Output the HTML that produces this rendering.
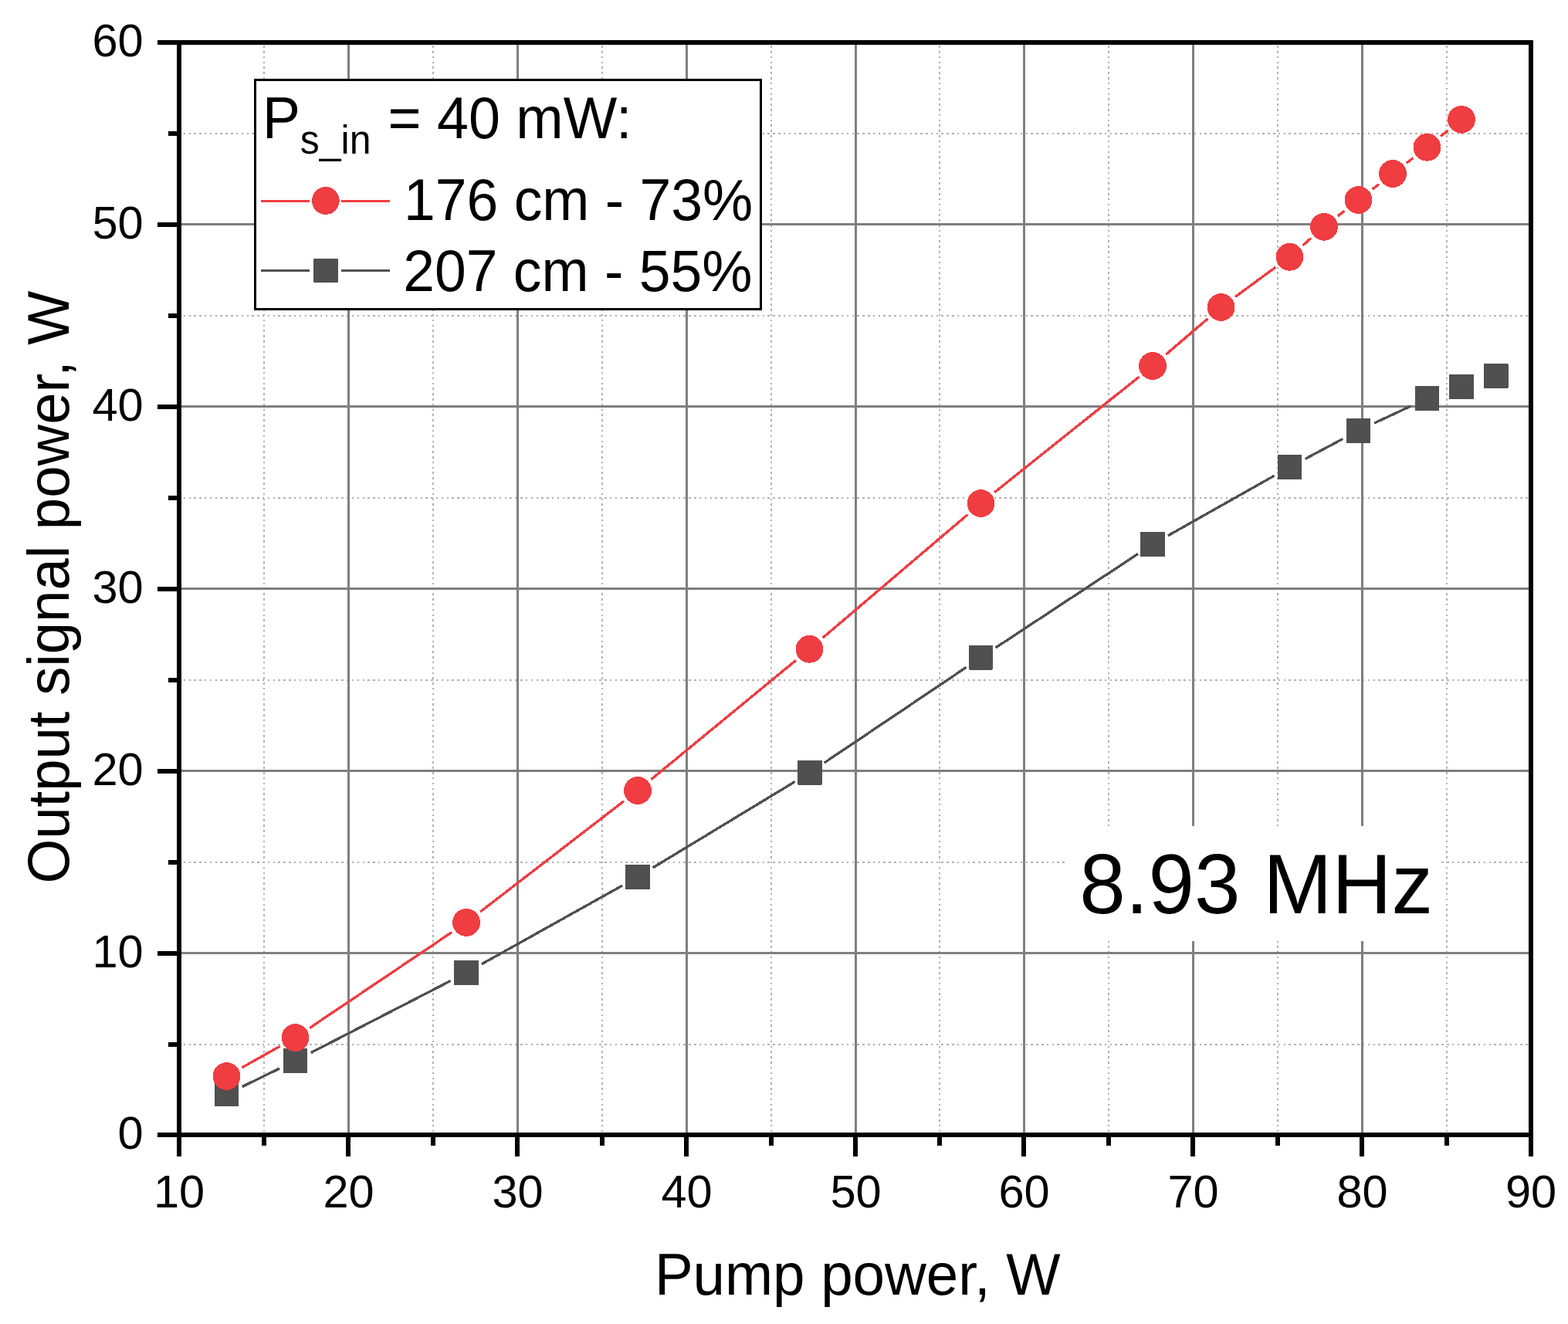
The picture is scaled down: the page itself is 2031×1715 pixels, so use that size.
<!DOCTYPE html>
<html><head><meta charset="utf-8"><style>
html,body{margin:0;padding:0;background:#fff;}
svg{display:block;}
</style></head><body>
<svg width="2031" height="1715" viewBox="0 0 2031 1715">
<rect width="2031" height="1715" fill="#fff"/>
<g stroke="#b0b0b0" stroke-width="2" stroke-dasharray="2.5 4.318" shape-rendering="crispEdges">
<line x1="342" y1="58" x2="342" y2="1467" stroke-dashoffset="-1.2"/>
<line x1="561" y1="58" x2="561" y2="1467" stroke-dashoffset="-1.2"/>
<line x1="780" y1="58" x2="780" y2="1467" stroke-dashoffset="-1.2"/>
<line x1="999" y1="58" x2="999" y2="1467" stroke-dashoffset="-1.2"/>
<line x1="1217" y1="58" x2="1217" y2="1467" stroke-dashoffset="-1.2"/>
<line x1="1436" y1="58" x2="1436" y2="1467" stroke-dashoffset="-1.2"/>
<line x1="1655" y1="58" x2="1655" y2="1467" stroke-dashoffset="-1.2"/>
<line x1="1874" y1="58" x2="1874" y2="1467" stroke-dashoffset="-1.2"/>
<line x1="235" y1="1353" x2="1980" y2="1353" stroke-dashoffset="-2.7"/>
<line x1="235" y1="1117" x2="1980" y2="1117" stroke-dashoffset="-2.7"/>
<line x1="235" y1="881" x2="1980" y2="881" stroke-dashoffset="-2.7"/>
<line x1="235" y1="645" x2="1980" y2="645" stroke-dashoffset="-2.7"/>
<line x1="235" y1="409" x2="1980" y2="409" stroke-dashoffset="-2.7"/>
<line x1="235" y1="173" x2="1980" y2="173" stroke-dashoffset="-2.7"/>
</g>
<g stroke="#7f7f7f" stroke-width="3" shape-rendering="crispEdges">
<line x1="451.5" y1="58" x2="451.5" y2="1467"/>
<line x1="670.5" y1="58" x2="670.5" y2="1467"/>
<line x1="889.5" y1="58" x2="889.5" y2="1467"/>
<line x1="1108.5" y1="58" x2="1108.5" y2="1467"/>
<line x1="1326.5" y1="58" x2="1326.5" y2="1467"/>
<line x1="1545.5" y1="58" x2="1545.5" y2="1467"/>
<line x1="1764.5" y1="58" x2="1764.5" y2="1467"/>
<line x1="235" y1="1234.5" x2="1980" y2="1234.5"/>
<line x1="235" y1="998.5" x2="1980" y2="998.5"/>
<line x1="235" y1="762.5" x2="1980" y2="762.5"/>
<line x1="235" y1="526.5" x2="1980" y2="526.5"/>
<line x1="235" y1="290.5" x2="1980" y2="290.5"/>
</g>
<rect x="1381" y="1070" width="486" height="149" fill="#fff"/>
<g stroke="#ef3d41" stroke-width="3.3" shape-rendering="crispEdges">
<line x1="313.3" y1="1382.9" x2="362.7" y2="1355.2"/>
<line x1="401.3" y1="1331.4" x2="585.2" y2="1207.6"/>
<line x1="622.0" y1="1181.1" x2="808.0" y2="1037.8"/>
<line x1="843.5" y1="1009.6" x2="1031.0" y2="855.2"/>
<line x1="1065.8" y1="826.1" x2="1253.2" y2="666.7"/>
<line x1="1288.2" y1="637.8" x2="1475.3" y2="488.2"/>
<line x1="1510.2" y1="459.2" x2="1564.4" y2="412.8"/>
<line x1="1599.9" y1="384.6" x2="1652.1" y2="346.2"/>
<line x1="1687.5" y1="317.9" x2="1697.9" y2="308.7"/>
<line x1="1732.9" y1="279.8" x2="1741.6" y2="273.0"/>
<line x1="1777.5" y1="245.2" x2="1786.0" y2="238.8"/>
<line x1="1822.0" y1="211.2" x2="1830.5" y2="204.6"/>
<line x1="1866.1" y1="176.5" x2="1875.4" y2="169.1"/>
</g>
<g stroke="#505050" stroke-width="3.3" shape-rendering="crispEdges">
<line x1="313.9" y1="1407.5" x2="362.1" y2="1384.0"/>
<line x1="402.7" y1="1363.6" x2="583.8" y2="1270.4"/>
<line x1="623.8" y1="1248.9" x2="806.2" y2="1147.0"/>
<line x1="845.4" y1="1124.1" x2="1029.6" y2="1012.5"/>
<line x1="1067.8" y1="988.0" x2="1251.7" y2="864.3"/>
<line x1="1289.5" y1="839.1" x2="1474.0" y2="717.5"/>
<line x1="1512.8" y1="693.9" x2="1650.7" y2="616.1"/>
<line x1="1690.6" y1="594.4" x2="1739.4" y2="568.5"/>
<line x1="1780.0" y1="548.2" x2="1827.9" y2="525.7"/>
</g>
<g fill="#505050" shape-rendering="crispEdges">
<rect x="277.6" y="1401.6" width="31.8" height="31.8" rx="1"/>
<rect x="366.6" y="1358.1" width="31.8" height="31.8" rx="1"/>
<rect x="588.1" y="1244.1" width="31.8" height="31.8" rx="1"/>
<rect x="810.1" y="1120.0" width="31.8" height="31.8" rx="1"/>
<rect x="1033.1" y="984.8" width="31.8" height="31.8" rx="1"/>
<rect x="1254.6" y="835.7" width="31.8" height="31.8" rx="1"/>
<rect x="1477.1" y="689.1" width="31.8" height="31.8" rx="1"/>
<rect x="1654.6" y="589.1" width="31.8" height="31.8" rx="1"/>
<rect x="1743.6" y="542.0" width="31.8" height="31.8" rx="1"/>
<rect x="1832.5" y="500.1" width="31.8" height="31.8" rx="1"/>
<rect x="1877.1" y="485.1" width="31.8" height="31.8" rx="1"/>
<rect x="1921.7" y="471.1" width="31.8" height="31.8" rx="1"/>
</g>
<g fill="#ef3d41" shape-rendering="crispEdges">
<circle cx="293.5" cy="1394" r="17.9"/>
<circle cx="382.5" cy="1344.1" r="17.9"/>
<circle cx="604" cy="1194.9" r="17.9"/>
<circle cx="826" cy="1024" r="17.9"/>
<circle cx="1048.5" cy="840.8" r="17.9"/>
<circle cx="1270.5" cy="652" r="17.9"/>
<circle cx="1493" cy="474" r="17.9"/>
<circle cx="1581.6" cy="398" r="17.9"/>
<circle cx="1670.4" cy="332.8" r="17.9"/>
<circle cx="1715" cy="293.8" r="17.9"/>
<circle cx="1759.5" cy="259" r="17.9"/>
<circle cx="1804" cy="225" r="17.9"/>
<circle cx="1848.5" cy="190.8" r="17.9"/>
<circle cx="1893" cy="154.8" r="17.9"/>
</g>
<rect x="330.5" y="103.5" width="655" height="297" fill="#fff" stroke="#000" stroke-width="3"/>
<g stroke-width="3" shape-rendering="crispEdges">
<line x1="338" y1="260.5" x2="401" y2="260.5" stroke="#ef3d41"/>
<line x1="442" y1="260.5" x2="505" y2="260.5" stroke="#ef3d41"/>
<line x1="338" y1="350.5" x2="401" y2="350.5" stroke="#505050"/>
<line x1="442" y1="350.5" x2="505" y2="350.5" stroke="#505050"/>
</g>
<circle cx="421.8" cy="260" r="17.9" fill="#ef3d41" shape-rendering="crispEdges"/>
<rect x="406" y="335" width="32" height="31" rx="1" fill="#505050"/>
<g font-family="'Liberation Sans', sans-serif" font-size="73.3">
<text transform="translate(339.9,178.9) scale(1,1.035)">P<tspan font-size="50" dy="19.23">s_in</tspan></text>
<text transform="translate(502.4,178.9) scale(1,1.035)" font-size="73.7">= 40 mW:</text>
<text transform="translate(523.0,284.9) scale(1,1.035)">176 cm - 73%</text>
<text transform="translate(522.2,376.5) scale(1,1.035)">207 cm - 55%</text>
</g>
<g fill="#000">
<rect x="229" y="52" width="6" height="1446"/>
<rect x="204" y="1467" width="1782" height="6"/>
<rect x="204" y="52" width="1782" height="6"/>
<rect x="1980" y="52" width="6" height="1446"/>
<rect x="204" y="1232.0" width="26" height="6"/>
<rect x="204" y="996.0" width="26" height="6"/>
<rect x="204" y="760.0" width="26" height="6"/>
<rect x="204" y="524.0" width="26" height="6"/>
<rect x="204" y="288.0" width="26" height="6"/>
<rect x="218" y="1350" width="12" height="6"/>
<rect x="218" y="1114" width="12" height="6"/>
<rect x="218" y="878" width="12" height="6"/>
<rect x="218" y="642" width="12" height="6"/>
<rect x="218" y="406" width="12" height="6"/>
<rect x="218" y="170" width="12" height="6"/>
<rect x="448.0" y="1472" width="6" height="26"/>
<rect x="667.0" y="1472" width="6" height="26"/>
<rect x="886.0" y="1472" width="6" height="26"/>
<rect x="1105.0" y="1472" width="6" height="26"/>
<rect x="1323.0" y="1472" width="6" height="26"/>
<rect x="1542.0" y="1472" width="6" height="26"/>
<rect x="1761.0" y="1472" width="6" height="26"/>
<rect x="339" y="1472" width="6" height="12"/>
<rect x="558" y="1472" width="6" height="12"/>
<rect x="777" y="1472" width="6" height="12"/>
<rect x="996" y="1472" width="6" height="12"/>
<rect x="1214" y="1472" width="6" height="12"/>
<rect x="1433" y="1472" width="6" height="12"/>
<rect x="1652" y="1472" width="6" height="12"/>
<rect x="1871" y="1472" width="6" height="12"/>
</g>
<g font-size="59.5" font-family="'Liberation Sans', sans-serif" text-anchor="end">
<text x="185.6" y="1487.5">0</text>
<text x="185.6" y="1252.5">10</text>
<text x="185.6" y="1016.5">20</text>
<text x="185.6" y="780.5">30</text>
<text x="185.6" y="544.5">40</text>
<text x="185.6" y="308.5">50</text>
<text x="185.6" y="72.5">60</text>
</g>
<g font-size="59.5" font-family="'Liberation Sans', sans-serif" text-anchor="middle">
<text x="232" y="1564">10</text>
<text x="451.5" y="1564">20</text>
<text x="670.5" y="1564">30</text>
<text x="889.5" y="1564">40</text>
<text x="1108.5" y="1564">50</text>
<text x="1326.5" y="1564">60</text>
<text x="1545.5" y="1564">70</text>
<text x="1764.5" y="1564">80</text>
<text x="1983" y="1564">90</text>
</g>
<text transform="translate(847.9,1676.9) scale(1,1.01)" font-size="74.5" font-family="'Liberation Sans', sans-serif">Pump power, W</text>
<text transform="translate(89.1,1144.5) rotate(-90) scale(1,1.015)" font-size="74.3" font-family="'Liberation Sans', sans-serif">Output signal power, W</text>
<text transform="translate(1398.2,1182.8) scale(1,1.03)" font-size="107" font-family="'Liberation Sans', sans-serif">8.93 MHz</text>
</svg>
</body></html>
